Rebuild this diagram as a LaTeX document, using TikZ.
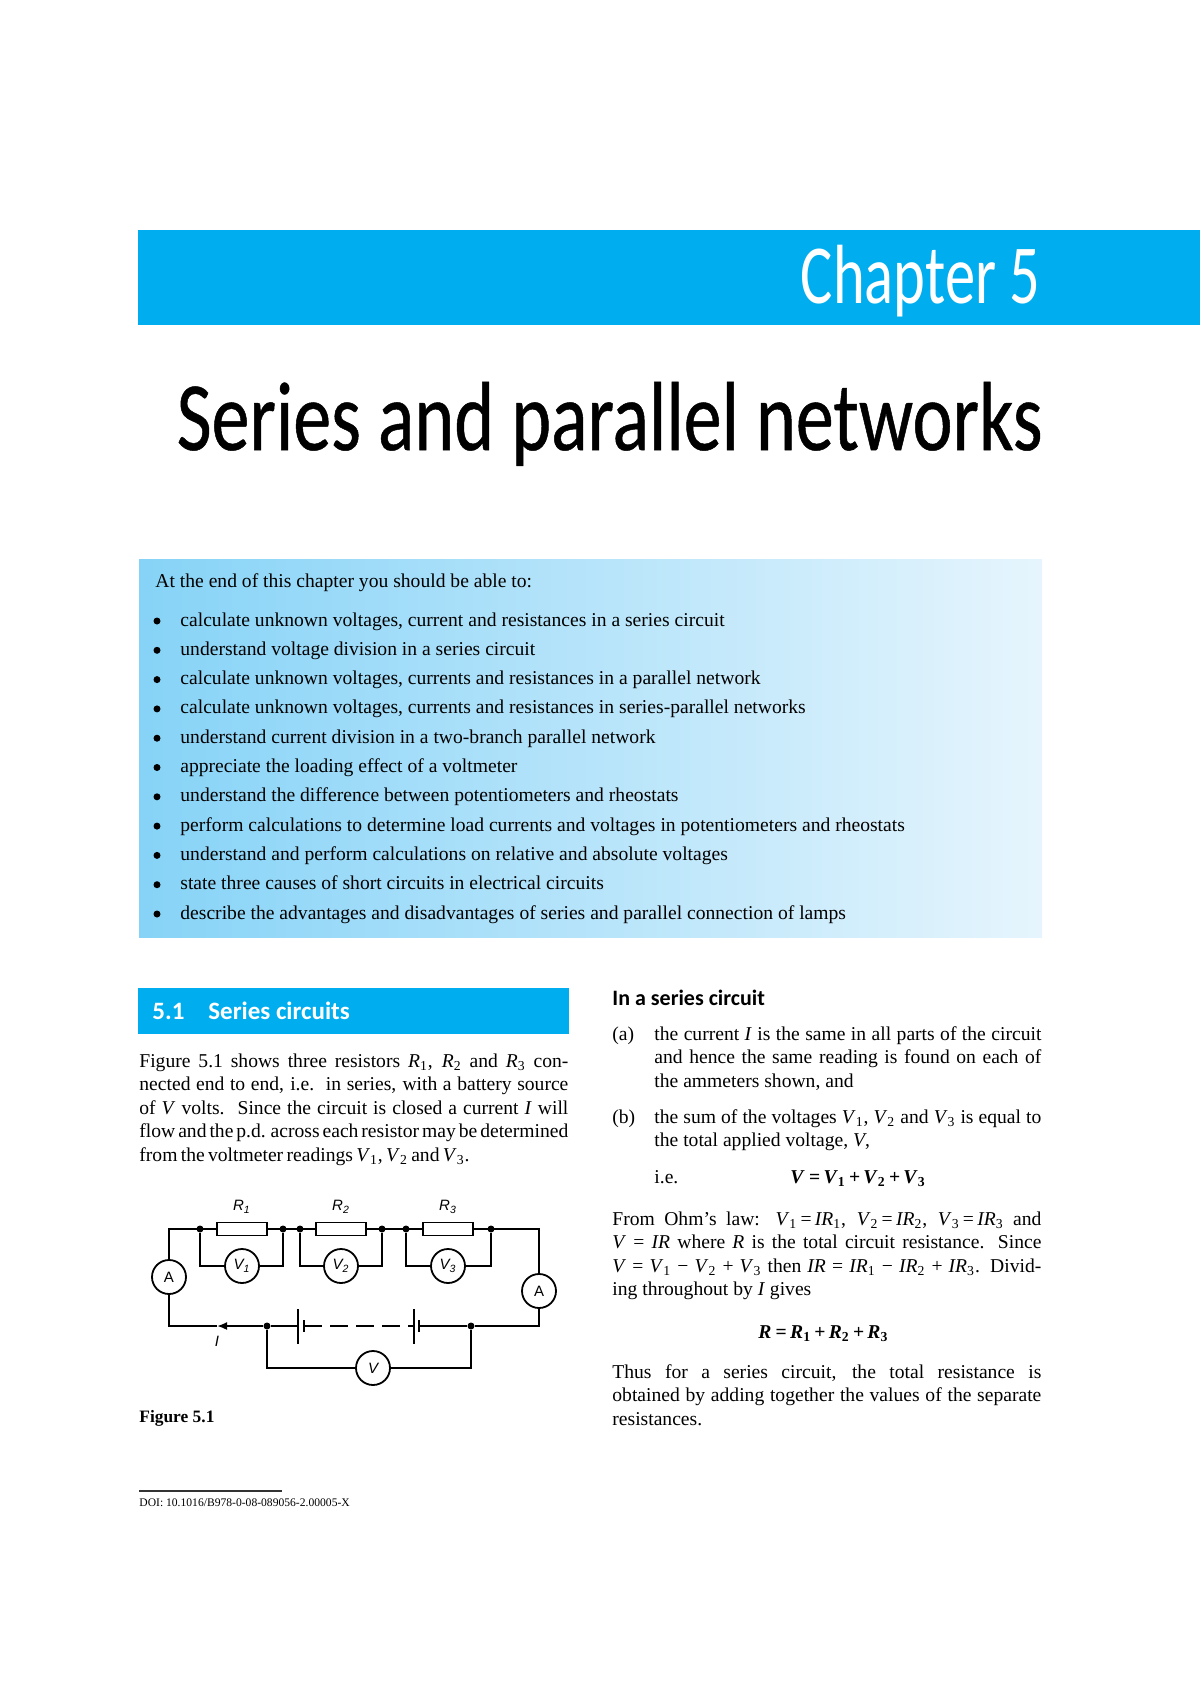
\documentclass[tikz,border=0pt]{standalone}
\usepackage{fontspec}
\setmainfont{Liberation Serif}
\setsansfont{Liberation Sans}
\newfontfamily\headfont{Carlito}
\newfontfamily\chapfont[FakeStretch=0.72]{Carlito}
\newfontfamily\titlefont[FakeStretch=0.775,FakeBold=0.5]{Carlito}
\usetikzlibrary{arrows.meta}
\definecolor{bannerblue}{HTML}{00AEEF}
\definecolor{boxleft}{HTML}{86D3F7}
\definecolor{boxright}{HTML}{E6F5FD}
\newcommand{\vs}[2]{\textit{#1}\textsubscript{#2}}
\newcommand{\bodyfont}{\fontsize{9.8}{11.75}\selectfont}

\begin{document}
\begin{tikzpicture}[
        x=0.5pt, y=-0.5pt,
        txt/.style={anchor=base west, inner sep=0pt, font=\bodyfont},
        para/.style={txt, align=justify, text width=#1},
        meter/.style={draw, circle, line width=0.9pt, minimum size=17pt, inner sep=0pt, fill=white, font=\sffamily\itshape\fontsize{7.5}{9}\selectfont},
        resistor/.style={draw, line width=0.9pt, minimum width=25pt, minimum height=6.5pt, inner sep=0pt},
        junction/.style={circle, fill=black, minimum size=3.5pt, inner sep=0pt},
        rlabel/.style={inner sep=0pt, font=\sffamily\itshape\fontsize{7.5}{9}\selectfont},
        wire/.style={line width=0.9pt}
    ]
    \useasboundingbox (0,0) rectangle (1200,1698);

    % Chapter banner
    \fill[bannerblue] (138,230) rectangle (1200,325);
    \node[anchor=base east, inner sep=0pt, text=white, font=\chapfont\fontsize{42}{42}\selectfont] (chapter) at (1041,303) {Chapter 5};
    \node[anchor=base east, inner sep=0pt, font=\titlefont\fontsize{49}{49}\selectfont] (title) at (1043,450) {Series and parallel networks};

    % Objectives box
    \shade[left color=boxleft, right color=boxright] (139,559) rectangle (1042,937);
    \node[txt] (intro) at (155,587) {At the end of this chapter you should be able to:};
    \foreach \txt [count=\i, evaluate=\i as \ypos using 626+(\i-1)*29.3] in {
        calculate unknown voltages{,} current and resistances in a series circuit,
        understand voltage division in a series circuit,
        calculate unknown voltages{,} currents and resistances in a parallel network,
        calculate unknown voltages{,} currents and resistances in series-parallel networks,
        understand current division in a two-branch parallel network,
        appreciate the loading effect of a voltmeter,
        understand the difference between potentiometers and rheostats,
        perform calculations to determine load currents and voltages in potentiometers and rheostats,
        understand and perform calculations on relative and absolute voltages,
        state three causes of short circuits in electrical circuits,
        describe the advantages and disadvantages of series and parallel connection of lamps}
    {
        \node[txt] (item\i) at (180,\ypos) {\txt};
        \node[circle, fill=black, minimum size=3.5pt, inner sep=0pt] (bullet\i) at (157,\ypos-5) {};
    }

    % Section heading
    \fill[bannerblue] (138,988) rectangle (569,1034);
    \node[txt, text=white, font=\headfont\bfseries\fontsize{12.5}{14}\selectfont] (secnum) at (152,1019) {5.1};
    \node[txt, text=white, font=\headfont\bfseries\fontsize{12.5}{14}\selectfont] (secname) at (208,1019) {Series circuits};

    % Left column
    \node[para=214.5pt] (leftpara) at (139,1067) {\spaceskip=.17em plus .5em minus .05em
        Figure 5.1 shows three resistors \vs{R}{1}, \vs{R}{2} and \vs{R}{3} con-\linebreak
        nected end to end, i.e. in series, with a battery source\linebreak
        of \textit{V} volts. Since the circuit is closed a current \textit{I} will\linebreak
        flow and the p.d. across each resistor may be determined\linebreak
        from the voltmeter readings \vs{V}{1}, \vs{V}{2} and \vs{V}{3}.};

    % Resistors and their voltmeters
    \node[resistor] (r1) at (242,1229) {};
    \node[resistor] (r2) at (341,1229) {};
    \node[resistor] (r3) at (448,1229) {};
    \foreach \n/\x in {1/242,2/341,3/448} {
        \node[rlabel] (rlab\n) at (\x,1207) {R\textsubscript{\n}};
        \node[meter] (vm\n) at (\x,1266) {V\textsubscript{\n}};
    }
    \foreach \n/\x in {1/200,2/283,3/300,4/382,5/406,6/491}
        \node[junction] (j\n) at (\x,1229) {};
    \foreach \a/\b/\m in {j1/j2/vm1, j3/j4/vm2, j5/j6/vm3} {
        \draw[wire] (\a) |- (\m.west);
        \draw[wire] (\b) |- (\m.east);
    }

    % Ammeters
    \node[meter, font=\sffamily\fontsize{7.5}{9}\selectfont] (ammL) at (169,1277) {A};
    \node[meter, font=\sffamily\fontsize{7.5}{9}\selectfont] (ammR) at (539,1291) {A};

    % Top rail
    \draw[wire] (ammL.north) |- (r1.west);
    \draw[wire] (r1.east) -- (r2.west);
    \draw[wire] (r2.east) -- (r3.west);
    \draw[wire] (r3.east) -| (ammR.north);

    % Battery
    \node[junction] (jb1) at (267,1326) {};
    \node[junction] (jb2) at (471,1326) {};
    \coordinate (cur) at (217,1326);
    \coordinate (long1) at (298,1326);
    \coordinate (short1) at (304,1326);
    \coordinate (long2) at (414,1326);
    \coordinate (short2) at (419,1326);
    \draw[wire] (long1 |- 0,1309) -- (long1 |- 0,1344);
    \draw[line width=1.2pt] (short1 |- 0,1320) -- (short1 |- 0,1332);
    \draw[wire] (long2 |- 0,1309) -- (long2 |- 0,1344);
    \draw[line width=1.2pt] (short2 |- 0,1320) -- (short2 |- 0,1332);
    \draw[wire] (jb1) -- (long1);
    \draw[wire, dashed, dash pattern=on 9pt off 4pt] (short1) -- (long2);
    \draw[wire] (short2) -- (jb2);
    \draw[wire] (jb2) -| (ammR.south);

    % Current arrow
    \draw[wire, -{Latex[length=5pt,width=4pt]}] (jb1) -- (cur);
    \draw[wire] (cur) -| (ammL.south);
    \node[rlabel] (ilab) at (217,1341) {I};

    % Supply voltmeter
    \node[meter] (vm) at (373,1368) {V};
    \draw[wire] (jb1) |- (vm.west);
    \draw[wire] (jb2) |- (vm.east);

    \node[txt, font=\fontsize{8.7}{10}\selectfont\bfseries] (figcap) at (139,1422) {Figure 5.1};

    % Footnote
    \coordinate (ruleL) at (139,1491);
    \coordinate (ruleR) at (282,1491);
    \draw[line width=0.6pt, black!80] (ruleL) -- (ruleR);
    \node[txt, font=\fontsize{5.8}{8}\selectfont] (doi) at (139,1506) {DOI: 10.1016/B978-0-08-089056-2.00005-X};

    % Right column
    \node[txt, font=\headfont\bfseries\fontsize{11}{13}\selectfont] (rhead) at (612,1005) {In a series circuit};
    \node[txt] (la) at (612,1040) {(a)};
    \node[para=193.5pt] (parta) at (654,1040) {the current \textit{I} is the same in all parts of the circuit\linebreak
        and hence the same reading is found on each of\linebreak
        the ammeters shown, and};
    \node[txt] (lb) at (612,1123) {(b)};
    \node[para=193.5pt] (partb) at (654,1123) {the sum of the voltages \vs{V}{1}, \vs{V}{2} and \vs{V}{3} is equal to\linebreak
        the total applied voltage, \textit{V},};
    \node[txt] (ie) at (654,1183) {i.e.};
    \node[txt, font=\bodyfont\bfseries] (eqv) at (790,1183) {\vs{V}{}\,=\,\vs{V}{1}\,+\,\vs{V}{2}\,+\,\vs{V}{3}};
    \node[para=214.5pt] (ohm) at (612,1225) {From Ohm's law: \vs{V}{1}\,=\,\textit{IR}\textsubscript{1}, \vs{V}{2}\,=\,\textit{IR}\textsubscript{2}, \vs{V}{3}\,=\,\textit{IR}\textsubscript{3} and\linebreak
        \textit{V} = \textit{IR} where \textit{R} is the total circuit resistance. Since\linebreak
        \textit{V} = \vs{V}{1} − \vs{V}{2} + \vs{V}{3} then \textit{IR} = \textit{IR}\textsubscript{1} − \textit{IR}\textsubscript{2} + \textit{IR}\textsubscript{3}. Divid-\linebreak
        ing throughout by \textit{I} gives};
    \node[txt, font=\bodyfont\bfseries] (eqr) at (758,1338) {\vs{R}{}\,=\,\vs{R}{1}\,+\,\vs{R}{2}\,+\,\vs{R}{3}};
    \node[para=214.5pt] (thus) at (612,1378) {Thus for a series circuit, the total resistance is\linebreak
        obtained by adding together the values of the separate\linebreak
        resistances.};

\end{tikzpicture}
\end{document}
